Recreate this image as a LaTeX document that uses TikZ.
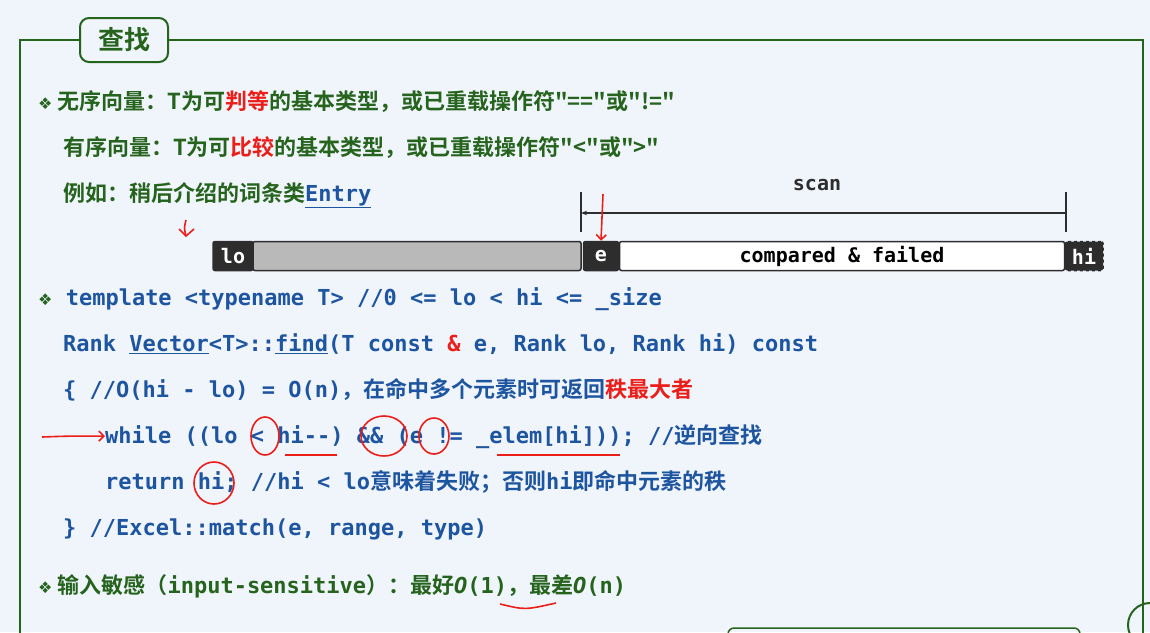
\documentclass[tikz,border=0pt]{standalone}
\usepackage{fontspec}
\usetikzlibrary{arrows.meta}
\newfontfamily\cjk{Noto Sans CJK SC}[BoldFont={Noto Sans CJK SC Bold}]
\newfontfamily\mono{DejaVu Sans Mono}
\newfontfamily\djsans{DejaVu Sans}
\definecolor{bg}{RGB}{240,245,252}
\definecolor{gr}{RGB}{38,100,30}
\definecolor{bl}{RGB}{30,85,160}
\definecolor{rd}{RGB}{235,30,25}
\definecolor{dk}{RGB}{45,45,45}
\newcommand{\bul}{{\djsans\fontsize{16}{16}\selectfont ❖}}
\begin{document}
\begin{tikzpicture}[x=1pt,y=-1pt,
  txt/.style={anchor=base west,inner sep=0pt,font=\fontsize{22}{22}\selectfont\bfseries\cjk},
  code/.style={anchor=base west,inner sep=0pt,text=bl,font=\fontsize{22}{22}\selectfont\bfseries\mono},
  cell/.style={draw=dk,line width=1.5pt,rounded corners=2pt,inner sep=0pt,font=\fontsize{20}{20}\selectfont\bfseries\mono},
  dcell/.style={cell,fill=dk,text=white},
  redmark/.style={draw=rd,line width=1.6pt},
  redarrow/.style={rd,line width=1.6pt,-{Straight Barb[length=5pt]}}]
\fill[bg] (0,0) rectangle (1150,632);
\useasboundingbox (0,0) rectangle (1150,632);
\draw[gr,line width=2pt] (20,640) -- (20,40) -- (1143,40) -- (1143,640);
\node[draw=gr,line width=2pt,fill=bg,rounded corners=9pt,minimum width=88pt,minimum height=44pt,text=gr,font=\fontsize{26}{26}\selectfont\bfseries\cjk] (title) at (124,40) {查找};
% text lines
\node[txt,text=gr] (l1) at (38,109) {\bul\ 无序向量：T为可\textcolor{rd}{判等}的基本类型，或已重载操作符"=="或"!="};
\node[txt,text=gr] (l2) at (63,155) {有序向量：T为可\textcolor{rd}{比较}的基本类型，或已重载操作符"<"或">"};
\node[txt,text=gr] (l3) at (63,201) {例如：稍后介绍的词条类\textcolor{bl}{\mono\underline{Entry}}};
% bar
\node[dcell,minimum width=40pt,minimum height=29pt] (lo) at (233,256) {lo};
\node[cell,fill=gray!55,minimum width=328pt,minimum height=29pt] (gray) at (417,256) {};
\node[dcell,minimum width=35pt,minimum height=29pt] (e) at (601,256) {e};
\node[cell,fill=white,minimum width=445pt,minimum height=29pt] (cf) at (842,256) {compared \& failed};
\node[dcell,dashed,minimum width=38pt,minimum height=29pt] (hi) at (1084,256) {hi};
\coordinate (sL) at (581,213); \coordinate (sR) at (1066,213);
\draw[dk,line width=2pt] (581,192) -- (581,232) (1066,192) -- (1066,232);
\draw[dk,line width=1.3pt,-{Stealth[length=6pt]}] (sR) -- (sL);
\node[font=\fontsize{20}{20}\selectfont\bfseries\mono,text=dk] (scan) at (817,185) {scan};
\draw[redarrow] (603,194) -- (e.north);
\draw[rd,line width=1.6pt] (186,220) .. controls (184,228) .. (186,236);
\draw[rd,line width=1.6pt] (179,229) -- (186,236) -- (194,229);
% code
\node[code] (c1) at (38,305) {\textcolor{gr}{\bul}\ template <typename T> //0 <= lo < hi <= \_size};
\node[code] (c2) at (63,351) {Rank \underline{Vector}<T>::\underline{find}(T const \textcolor{rd}{\&} e, Rank lo, Rank hi) const};
\node[code] (c3) at (63,397) {\{ //O(hi - lo) = O(n){\cjk ，在命中多个元素时可返回\textcolor{rd}{秩最大者}}};
\node[code] (c4) at (105,443) {while ((lo < hi--) \&\& (e != \_elem[hi])); //{\cjk 逆向查找}};
\node[code] (c5) at (105,489) {return hi; //hi < lo{\cjk 意味着失败；否则}hi{\cjk 即命中元素的秩}};
\node[code] (c6) at (63,535) {\} //Excel::match(e, range, type)};
\node[txt,text=gr] (c7) at (38,593) {\bul\ 输入敏感（{\mono input-sensitive}）：最好{\mono\itshape O}{\mono (1)}，最差{\mono\itshape O}{\mono (n)}};
% red annotations
\coordinate (a0) at (42,437);
\draw[redarrow] (a0) .. controls (70,436) .. (c4.west);
\draw[redmark] (265,436) ellipse (14pt and 19pt);
\draw[redmark] (285,455) -- (337,455);
\draw[redmark] (384,436) ellipse (23pt and 20pt);
\draw[redmark] (434,436) ellipse (15pt and 18pt);
\draw[redmark] (497,455) -- (620,455);
\draw[redmark] (214,483) ellipse (20pt and 21pt);
\draw[redmark] (500,604) .. controls (525,610) .. (556,603);
% partial bottom box
\draw[gr,line width=1.5pt,rounded corners=6pt] (728,645) -- (728,628) -- (1080,628) -- (1080,645);
\draw[gr,line width=2pt] (1150,625) circle (22pt);
\end{tikzpicture}
\end{document}
